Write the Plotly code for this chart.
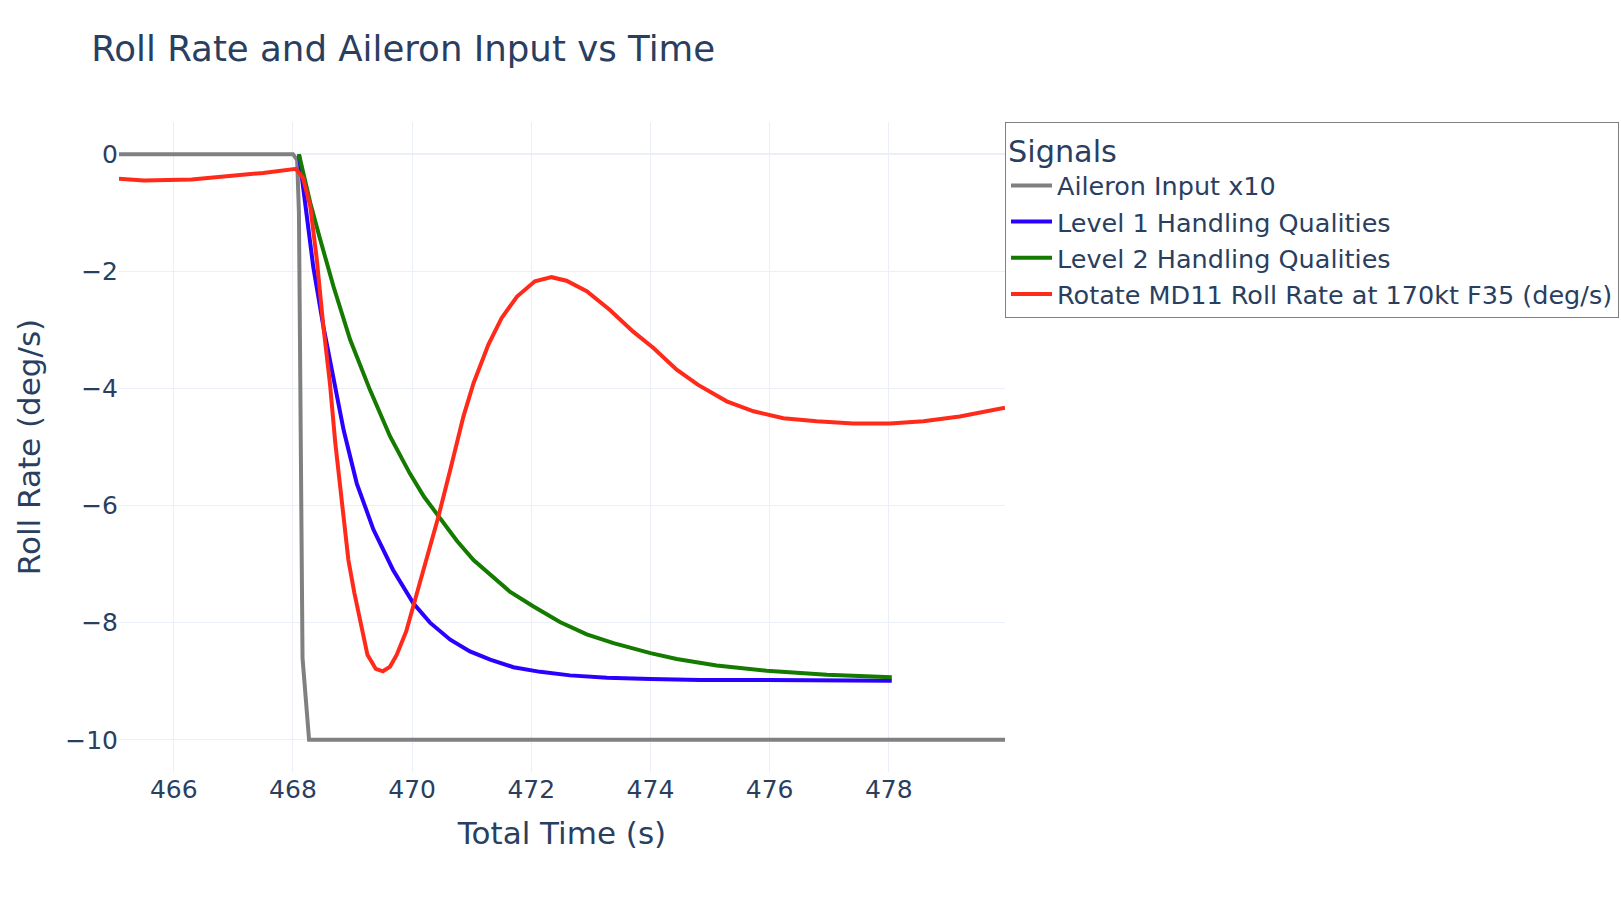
import plotly.graph_objects as go

# Stick input, scaled by ten
aileron_t = [465.08, 468.0, 468.07, 468.1, 468.16, 468.27, 479.95]
aileron_y = [0, 0, -0.1, -1.0, -8.6, -10, -10]

# Reference response envelopes
level1_t = [468.1, 468.23, 468.34, 468.51, 468.68, 468.85, 469.07, 469.35, 469.68, 469.8, 470.02, 470.3,
            470.64, 470.97, 471.31, 471.7, 472.15, 472.65, 473.27, 474.0, 474.83, 475.95, 478.05]
level1_y = [0, -1.06, -1.92, -2.94, -3.85, -4.71, -5.62, -6.41, -7.1, -7.3, -7.67, -8.0,
            -8.29, -8.49, -8.63, -8.76, -8.84, -8.9, -8.94, -8.96, -8.98, -8.98, -8.99]
level2_t = [468.1, 468.29, 468.45, 468.68, 468.96, 469.29, 469.63, 469.96, 470.2, 470.45, 470.75, 471.03, 471.31,
            471.64, 472.03, 472.48, 472.93, 473.38, 474.0, 474.44, 475.11, 475.95, 476.96, 478.05]
level2_y = [0, -0.83, -1.43, -2.26, -3.17, -4.02, -4.82, -5.45, -5.85, -6.2, -6.6, -6.93, -7.18,
            -7.47, -7.72, -7.99, -8.2, -8.35, -8.52, -8.62, -8.73, -8.82, -8.89, -8.93]

# Recorded roll rate
rotate_t = [465.08, 465.5, 466.3, 467.0, 467.5, 468.05, 468.17, 468.29, 468.4, 468.51, 468.62, 468.71, 468.82,
            468.93, 469.03, 469.13, 469.25, 469.39, 469.51, 469.63, 469.74, 469.9, 470.02, 470.16, 470.24,
            470.44, 470.64, 470.86, 471.03, 471.28, 471.5, 471.76, 472.06, 472.34, 472.59, 472.93, 473.32,
            473.71, 474.05, 474.44, 474.8, 475.28, 475.73, 476.23, 476.79, 477.4, 478.02, 478.58, 479.19, 479.95]
rotate_y = [-0.42, -0.45, -0.43, -0.37, -0.32, -0.25, -0.41, -0.89, -1.8, -2.94, -3.91, -4.93, -5.96,
            -6.93, -7.49, -8.01, -8.55, -8.79, -8.83, -8.75, -8.55, -8.15, -7.72, -7.21, -6.93,
            -6.19, -5.39, -4.48, -3.91, -3.25, -2.8, -2.43, -2.17, -2.1, -2.16, -2.34, -2.66,
            -3.03, -3.31, -3.68, -3.94, -4.22, -4.39, -4.51, -4.56, -4.6, -4.6, -4.56, -4.48, -4.33]

series = [
    ("Aileron Input x10", aileron_t, aileron_y, "#808080"),
    ("Level 1 Handling Qualities", level1_t, level1_y, "#2a00ff"),
    ("Level 2 Handling Qualities", level2_t, level2_y, "#157a00"),
    ("Rotate MD11 Roll Rate at 170kt F35 (deg/s)", rotate_t, rotate_y, "#ff2a1a"),
]

fig = go.Figure()
for name, t, y, colour in series:
    fig.add_trace(go.Scatter(x=t, y=y, mode="lines", name=name, line=dict(color=colour, width=4)))

fig.update_layout(
    template="plotly_white",
    width=1634,
    height=902,
    margin=dict(l=119, r=629, t=122, b=130),
    font=dict(family="DejaVu Sans", size=25, color="#2a3f5f"),
    title=dict(text="Roll Rate and Aileron Input vs Time", font=dict(size=35.6), x=0.0558, xanchor="left", y=0.946, yanchor="middle"),
    legend=dict(title=dict(text="Signals", font=dict(size=30.3)), font=dict(size=25.5), x=1, y=1, itemwidth=41,
                xanchor="left", yanchor="top", bordercolor="#808080", borderwidth=1),
    dragmode="zoom",
)
fig.update_xaxes(title=dict(text="Total Time (s)", standoff=19, font=dict(size=31)),
                 range=[465.08, 479.95], tick0=466, dtick=2, tickfont=dict(size=25), zeroline=False)
fig.update_yaxes(title_text="Roll Rate (deg/s)", range=[-10.55, 0.55], tick0=0, dtick=2,
                 title_font=dict(size=31), tickfont=dict(size=25))

fig.write_html("out.html", config={"displayModeBar": True, "displaylogo": True, "responsive": False})
